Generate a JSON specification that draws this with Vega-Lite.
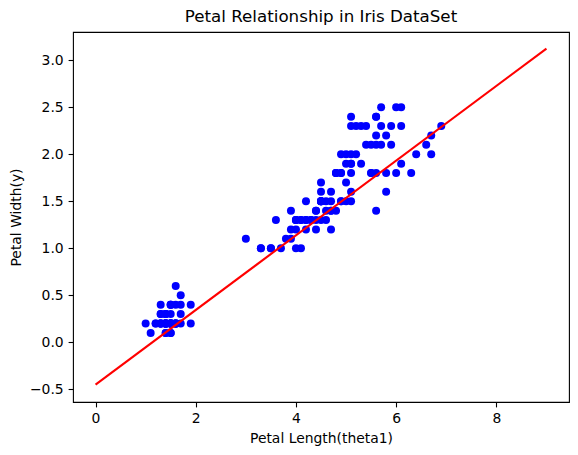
{
  "$schema": "https://vega.github.io/schema/vega-lite/v6.json",
  "width": 496,
  "height": 370,
  "autosize": {"type": "none"},
  "padding": {"left": 73, "top": 32, "right": 9, "bottom": 53},
  "background": "white",
  "config": {
    "font": "DejaVu Sans",
    "view": {"stroke": "black", "strokeWidth": 1.1},
    "axis": {
      "domain": false,
      "grid": false,
      "tickColor": "black",
      "tickSize": 4.9,
      "tickWidth": 1.1,
      "labelFont": "DejaVu Sans",
      "labelFontSize": 13.9,
      "labelColor": "black",
      "labelPadding": 4.9,
      "titleFont": "DejaVu Sans",
      "titleFontSize": 13.9,
      "titleFontWeight": "normal",
      "titleColor": "black",
      "titlePadding": 5.6
    }
  },
  "title": {
    "text": "Petal Relationship in Iris DataSet",
    "font": "DejaVu Sans",
    "fontSize": 16.7,
    "fontWeight": "normal",
    "color": "black",
    "offset": 6,
    "anchor": "middle"
  },
  "layer": [
    {
      "data": {
        "values": [
          {"length": 1.4, "width": 0.2}, {"length": 1.4, "width": 0.2}, {"length": 1.3, "width": 0.2}, {"length": 1.5, "width": 0.2}, {"length": 1.4, "width": 0.2},
          {"length": 1.7, "width": 0.4}, {"length": 1.4, "width": 0.3}, {"length": 1.5, "width": 0.2}, {"length": 1.4, "width": 0.2}, {"length": 1.5, "width": 0.1},
          {"length": 1.5, "width": 0.2}, {"length": 1.6, "width": 0.2}, {"length": 1.4, "width": 0.1}, {"length": 1.1, "width": 0.1}, {"length": 1.2, "width": 0.2},
          {"length": 1.5, "width": 0.4}, {"length": 1.3, "width": 0.4}, {"length": 1.4, "width": 0.3}, {"length": 1.7, "width": 0.3}, {"length": 1.5, "width": 0.3},
          {"length": 1.7, "width": 0.2}, {"length": 1.5, "width": 0.4}, {"length": 1.0, "width": 0.2}, {"length": 1.7, "width": 0.5}, {"length": 1.9, "width": 0.2},
          {"length": 1.6, "width": 0.2}, {"length": 1.6, "width": 0.4}, {"length": 1.5, "width": 0.2}, {"length": 1.4, "width": 0.2}, {"length": 1.6, "width": 0.2},
          {"length": 1.6, "width": 0.2}, {"length": 1.5, "width": 0.4}, {"length": 1.5, "width": 0.1}, {"length": 1.4, "width": 0.2}, {"length": 1.5, "width": 0.2},
          {"length": 1.2, "width": 0.2}, {"length": 1.3, "width": 0.2}, {"length": 1.4, "width": 0.1}, {"length": 1.3, "width": 0.2}, {"length": 1.5, "width": 0.2},
          {"length": 1.3, "width": 0.3}, {"length": 1.3, "width": 0.3}, {"length": 1.3, "width": 0.2}, {"length": 1.6, "width": 0.6}, {"length": 1.9, "width": 0.4},
          {"length": 1.4, "width": 0.3}, {"length": 1.6, "width": 0.2}, {"length": 1.4, "width": 0.2}, {"length": 1.5, "width": 0.2}, {"length": 1.4, "width": 0.2},
          {"length": 4.7, "width": 1.4}, {"length": 4.5, "width": 1.5}, {"length": 4.9, "width": 1.5}, {"length": 4.0, "width": 1.3}, {"length": 4.6, "width": 1.5},
          {"length": 4.5, "width": 1.3}, {"length": 4.7, "width": 1.6}, {"length": 3.3, "width": 1.0}, {"length": 4.6, "width": 1.3}, {"length": 3.9, "width": 1.4},
          {"length": 3.5, "width": 1.0}, {"length": 4.2, "width": 1.5}, {"length": 4.0, "width": 1.0}, {"length": 4.7, "width": 1.4}, {"length": 3.6, "width": 1.3},
          {"length": 4.4, "width": 1.4}, {"length": 4.5, "width": 1.5}, {"length": 4.1, "width": 1.0}, {"length": 4.5, "width": 1.5}, {"length": 3.9, "width": 1.1},
          {"length": 4.8, "width": 1.8}, {"length": 4.0, "width": 1.3}, {"length": 4.9, "width": 1.5}, {"length": 4.7, "width": 1.2}, {"length": 4.3, "width": 1.3},
          {"length": 4.4, "width": 1.4}, {"length": 4.8, "width": 1.4}, {"length": 5.0, "width": 1.7}, {"length": 4.5, "width": 1.5}, {"length": 3.5, "width": 1.0},
          {"length": 3.8, "width": 1.1}, {"length": 3.7, "width": 1.0}, {"length": 3.9, "width": 1.2}, {"length": 5.1, "width": 1.6}, {"length": 4.5, "width": 1.5},
          {"length": 4.5, "width": 1.6}, {"length": 4.7, "width": 1.5}, {"length": 4.4, "width": 1.3}, {"length": 4.1, "width": 1.3}, {"length": 4.0, "width": 1.3},
          {"length": 4.4, "width": 1.2}, {"length": 4.6, "width": 1.4}, {"length": 4.0, "width": 1.2}, {"length": 3.3, "width": 1.0}, {"length": 4.2, "width": 1.3},
          {"length": 4.2, "width": 1.2}, {"length": 4.2, "width": 1.3}, {"length": 4.3, "width": 1.3}, {"length": 3.0, "width": 1.1}, {"length": 4.1, "width": 1.3},
          {"length": 6.0, "width": 2.5}, {"length": 5.1, "width": 1.9}, {"length": 5.9, "width": 2.1}, {"length": 5.6, "width": 1.8}, {"length": 5.8, "width": 2.2},
          {"length": 6.6, "width": 2.1}, {"length": 4.5, "width": 1.7}, {"length": 6.3, "width": 1.8}, {"length": 5.8, "width": 1.8}, {"length": 6.1, "width": 2.5},
          {"length": 5.1, "width": 2.0}, {"length": 5.3, "width": 1.9}, {"length": 5.5, "width": 2.1}, {"length": 5.0, "width": 2.0}, {"length": 5.1, "width": 2.4},
          {"length": 5.3, "width": 2.3}, {"length": 5.5, "width": 1.8}, {"length": 6.7, "width": 2.2}, {"length": 6.9, "width": 2.3}, {"length": 5.0, "width": 1.5},
          {"length": 5.7, "width": 2.3}, {"length": 4.9, "width": 2.0}, {"length": 6.7, "width": 2.0}, {"length": 4.9, "width": 1.8}, {"length": 5.7, "width": 2.1},
          {"length": 6.0, "width": 1.8}, {"length": 4.8, "width": 1.8}, {"length": 4.9, "width": 1.8}, {"length": 5.6, "width": 2.1}, {"length": 5.8, "width": 1.6},
          {"length": 6.1, "width": 1.9}, {"length": 6.4, "width": 2.0}, {"length": 5.6, "width": 2.2}, {"length": 5.1, "width": 1.5}, {"length": 5.6, "width": 1.4},
          {"length": 6.1, "width": 2.3}, {"length": 5.6, "width": 2.4}, {"length": 5.5, "width": 1.8}, {"length": 4.8, "width": 1.8}, {"length": 5.4, "width": 2.1},
          {"length": 5.6, "width": 2.4}, {"length": 5.1, "width": 2.3}, {"length": 5.1, "width": 1.9}, {"length": 5.9, "width": 2.3}, {"length": 5.7, "width": 2.5},
          {"length": 5.2, "width": 2.3}, {"length": 5.0, "width": 1.9}, {"length": 5.2, "width": 2.0}, {"length": 5.4, "width": 2.3}, {"length": 5.1, "width": 1.8}
        ]
      },
      "mark": {"type": "point", "filled": true, "shape": "circle", "size": 64, "color": "#0000ff", "opacity": 1},
      "encoding": {
        "x": {
          "field": "length",
          "type": "quantitative",
          "title": "Petal Length(theta1)",
          "scale": {"domain": [-0.45, 9.45], "nice": false, "zero": false},
          "axis": {"values": [0, 2, 4, 6, 8], "format": "d"}
        },
        "y": {
          "field": "width",
          "type": "quantitative",
          "title": "Petal Width(y)",
          "scale": {"domain": [-0.635, 3.30], "nice": false, "zero": false},
          "axis": {"values": [-0.5, 0, 0.5, 1.0, 1.5, 2.0, 2.5, 3.0], "format": ".1f"}
        }
      }
    },
    {
      "data": {
        "values": [
          {"length": 0, "width": -0.451},
          {"length": 9, "width": 3.123}
        ]
      },
      "mark": {"type": "line", "color": "#ff0000", "strokeWidth": 2.1},
      "encoding": {
        "x": {"field": "length", "type": "quantitative"},
        "y": {"field": "width", "type": "quantitative"}
      }
    }
  ]
}
